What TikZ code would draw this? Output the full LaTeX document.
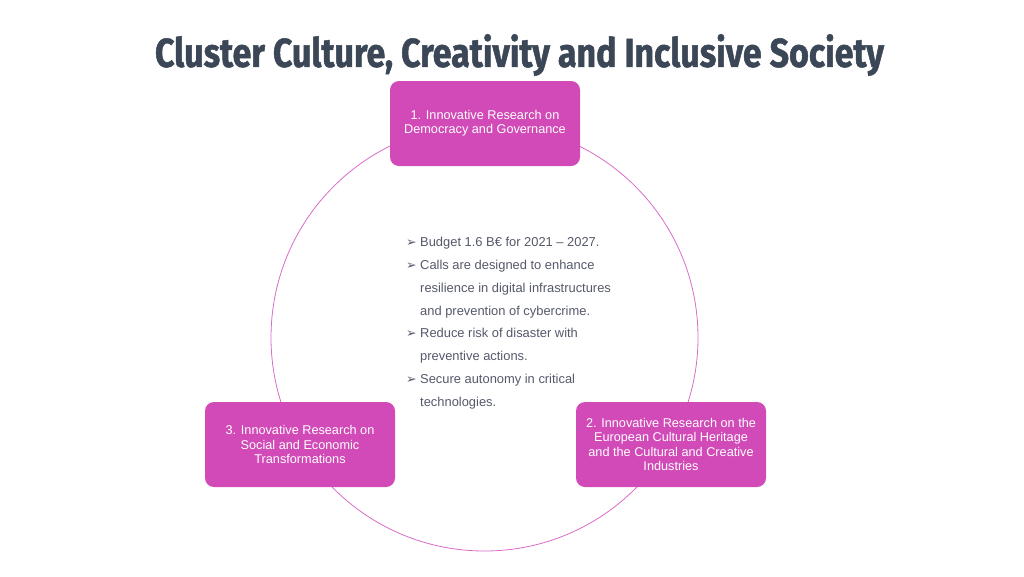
\documentclass[tikz,border=0pt]{standalone}
\usepackage{fontspec}
\setmainfont{Liberation Sans}
\newfontfamily\titlefont{Fira Sans}[FakeStretch=0.84, FakeBold=1.2]
\newfontfamily\symfont{DejaVu Sans}
\usepackage{tikz}
\usetikzlibrary{positioning}

\definecolor{clmagenta}{HTML}{D14AB7}
\definecolor{clring}{HTML}{D96CC8}
\definecolor{cltitle}{HTML}{3B4656}
\definecolor{cltext}{HTML}{55596A}

\begin{document}
\begin{tikzpicture}[
    x=1pt, y=-1pt,
    topic/.style={rectangle, rounded corners=9pt, fill=clmagenta, draw=none, minimum width=190pt, minimum height=85pt, align=center, text=white, font=\fontsize{12.7}{14.3}\selectfont, inner sep=2pt},
    ring/.style={draw=clring, line width=0.8pt},
    heading/.style={font=\titlefont\bfseries\fontsize{40.4}{43}\selectfont, text=cltitle}
]
    \useasboundingbox[fill=white] (0,0) rectangle (1024,576);

    % Title
    \node[heading] (title) at (519.5,55) {Cluster Culture, Creativity and Inclusive Society};

    % Ring behind the topics
    \coordinate (hub) at (484.5,337.5);
    \draw[ring] (hub) circle[radius=213.5pt];

    % Topics
    \node[topic] (t1) at (485,123.5) {1. Innovative Research on\\Democracy and Governance};
    \node[topic] (t2) at (671,444.5) {2. Innovative Research on the\\European Cultural Heritage\\and the Cultural and Creative\\Industries};
    \node[topic] (t3) at (300,444.5) {3. Innovative Research on\\Social and Economic\\Transformations};

    % Bullet list
    \node[anchor=north west, inner sep=0pt, align=left, text=cltext, font=\fontsize{12.9}{22.86}\selectfont] (facts) at (406,237) {%
        \makebox[14pt][l]{\symfont\fontsize{12.5}{22.86}\selectfont ➢}Budget 1.6 B€ for 2021 – 2027.\\
        \makebox[14pt][l]{\symfont\fontsize{12.5}{22.86}\selectfont ➢}Calls are designed to enhance\\
        \hspace*{14pt}resilience in digital infrastructures\\
        \hspace*{14pt}and prevention of cybercrime.\\
        \makebox[14pt][l]{\symfont\fontsize{12.5}{22.86}\selectfont ➢}Reduce risk of disaster with\\
        \hspace*{14pt}preventive actions.\\
        \makebox[14pt][l]{\symfont\fontsize{12.5}{22.86}\selectfont ➢}Secure autonomy in critical\\
        \hspace*{14pt}technologies.};
\end{tikzpicture}
\end{document}
